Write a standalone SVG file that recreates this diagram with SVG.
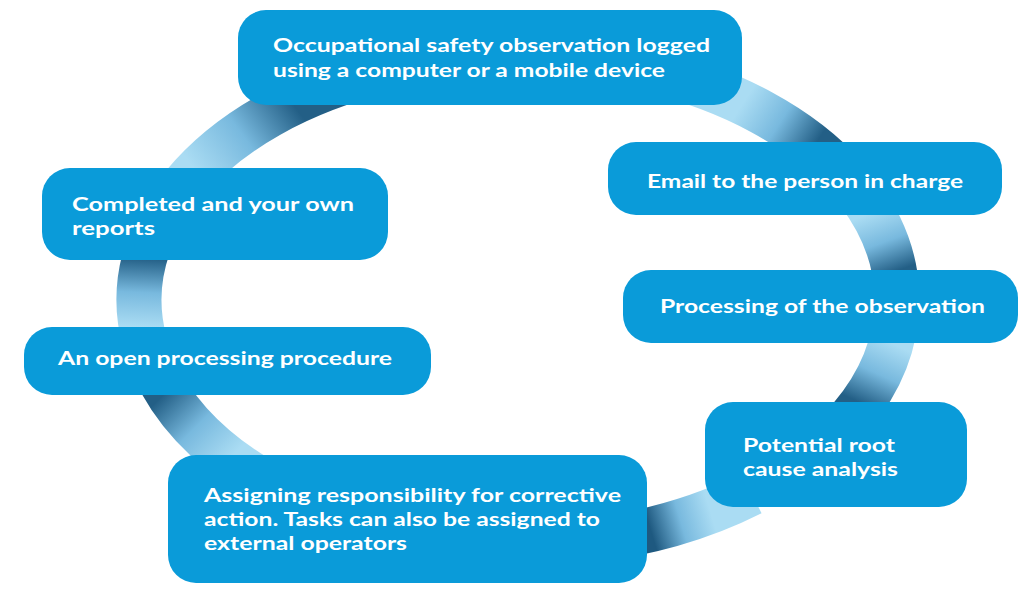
<svg xmlns="http://www.w3.org/2000/svg" width="1024" height="593" viewBox="0 0 1024 593">
<defs>
<style>
.box{fill:#0a9bd9}
.t{font-family:Lato,"Open Sans","Liberation Sans",sans-serif;font-weight:700;font-size:19.5px;fill:#ffffff}
.ring{fill:none;stroke-width:45}
</style>
<linearGradient id="g1" gradientUnits="userSpaceOnUse" x1="195" y1="170" x2="290" y2="100"><stop offset="0" stop-color="#aadcf3"/><stop offset="0.5" stop-color="#78b9de"/><stop offset="1" stop-color="#235f86"/></linearGradient>
<linearGradient id="g2" gradientUnits="userSpaceOnUse" x1="745" y1="100" x2="815" y2="145"><stop offset="0" stop-color="#aadcf3"/><stop offset="0.5" stop-color="#78b9de"/><stop offset="1" stop-color="#235f86"/></linearGradient>
<linearGradient id="g3" gradientUnits="userSpaceOnUse" x1="872" y1="213" x2="894" y2="272"><stop offset="0" stop-color="#aadcf3"/><stop offset="0.5" stop-color="#78b9de"/><stop offset="1" stop-color="#235f86"/></linearGradient>
<linearGradient id="g4" gradientUnits="userSpaceOnUse" x1="891" y1="343" x2="863" y2="404"><stop offset="0" stop-color="#aadcf3"/><stop offset="0.5" stop-color="#78b9de"/><stop offset="1" stop-color="#235f86"/></linearGradient>
<linearGradient id="g5" gradientUnits="userSpaceOnUse" x1="710" y1="510" x2="650" y2="528"><stop offset="0" stop-color="#aadcf3"/><stop offset="0.5" stop-color="#78b9de"/><stop offset="1" stop-color="#1e5980"/></linearGradient>
<linearGradient id="g6" gradientUnits="userSpaceOnUse" x1="230" y1="458" x2="165" y2="393"><stop offset="0" stop-color="#aadcf3"/><stop offset="0.5" stop-color="#78b9de"/><stop offset="1" stop-color="#235f86"/></linearGradient>
<linearGradient id="g7" gradientUnits="userSpaceOnUse" x1="141" y1="327" x2="144" y2="258"><stop offset="0" stop-color="#aadcf3"/><stop offset="0.5" stop-color="#78b9de"/><stop offset="1" stop-color="#235f86"/></linearGradient>
</defs>
<rect width="1024" height="593" fill="#ffffff"/>
<g id="connectors">
<path class="ring" stroke="url(#g1)" d="M183.4 185.1 A379 245 0 0 1 388.4 69.7"/>
<path class="ring" stroke="url(#g2)" d="M647.6 69.7 A379 245 0 0 1 846.2 177.5"/>
<path class="ring" stroke="url(#g3)" d="M858.6 192.6 A379 245 0 0 1 896.8 291.5"/>
<path class="ring" stroke="url(#g4)" d="M896.1 317.1 A379 245 0 0 1 839.4 429.8"/>
<path class="ring" stroke="url(#g5)" d="M751.4 493.1 A379 245 0 0 1 583.8 541.3"/>
<path class="ring" stroke="url(#g6)" d="M254.7 476.2 A379 245 0 0 1 153.7 367.5"/>
<path class="ring" stroke="url(#g7)" d="M144.8 342.6 A379 245 0 0 1 153.7 232.5"/>
</g>
<g id="node-logged">
<rect class="box" x="238" y="10" width="504" height="95" rx="28"/>
<text class="t" x="273" y="52" textLength="437" lengthAdjust="spacingAndGlyphs">Occupational safety observation logged</text>
<text class="t" x="273" y="77" textLength="392" lengthAdjust="spacingAndGlyphs">using a computer or a mobile device</text>
</g>
<g id="node-email">
<rect class="box" x="608" y="142" width="394" height="73" rx="28"/>
<text class="t" x="647" y="188" textLength="316" lengthAdjust="spacingAndGlyphs">Email to the person in charge</text>
</g>
<g id="node-processing">
<rect class="box" x="623" y="270" width="395" height="73" rx="28"/>
<text class="t" x="660" y="313" textLength="325" lengthAdjust="spacingAndGlyphs">Processing of the observation</text>
</g>
<g id="node-rootcause">
<rect class="box" x="705" y="402" width="262" height="105" rx="28"/>
<text class="t" x="743" y="452" textLength="152" lengthAdjust="spacingAndGlyphs">Potential root</text>
<text class="t" x="743" y="476" textLength="155" lengthAdjust="spacingAndGlyphs">cause analysis</text>
</g>
<g id="node-assigning">
<rect class="box" x="168" y="455" width="479" height="128" rx="28"/>
<text class="t" x="204" y="502" textLength="417" lengthAdjust="spacingAndGlyphs">Assigning responsibility for corrective</text>
<text class="t" x="204" y="526" textLength="396" lengthAdjust="spacingAndGlyphs">action. Tasks can also be assigned to</text>
<text class="t" x="204" y="550" textLength="203" lengthAdjust="spacingAndGlyphs">external operators</text>
</g>
<g id="node-open">
<rect class="box" x="24" y="327" width="407" height="68" rx="28"/>
<text class="t" x="58" y="365" textLength="334" lengthAdjust="spacingAndGlyphs">An open processing procedure</text>
</g>
<g id="node-completed">
<rect class="box" x="42" y="168" width="346" height="92" rx="28"/>
<text class="t" x="72" y="211" textLength="282" lengthAdjust="spacingAndGlyphs">Completed and your own</text>
<text class="t" x="72" y="235" textLength="83" lengthAdjust="spacingAndGlyphs">reports</text>
</g>
</svg>
